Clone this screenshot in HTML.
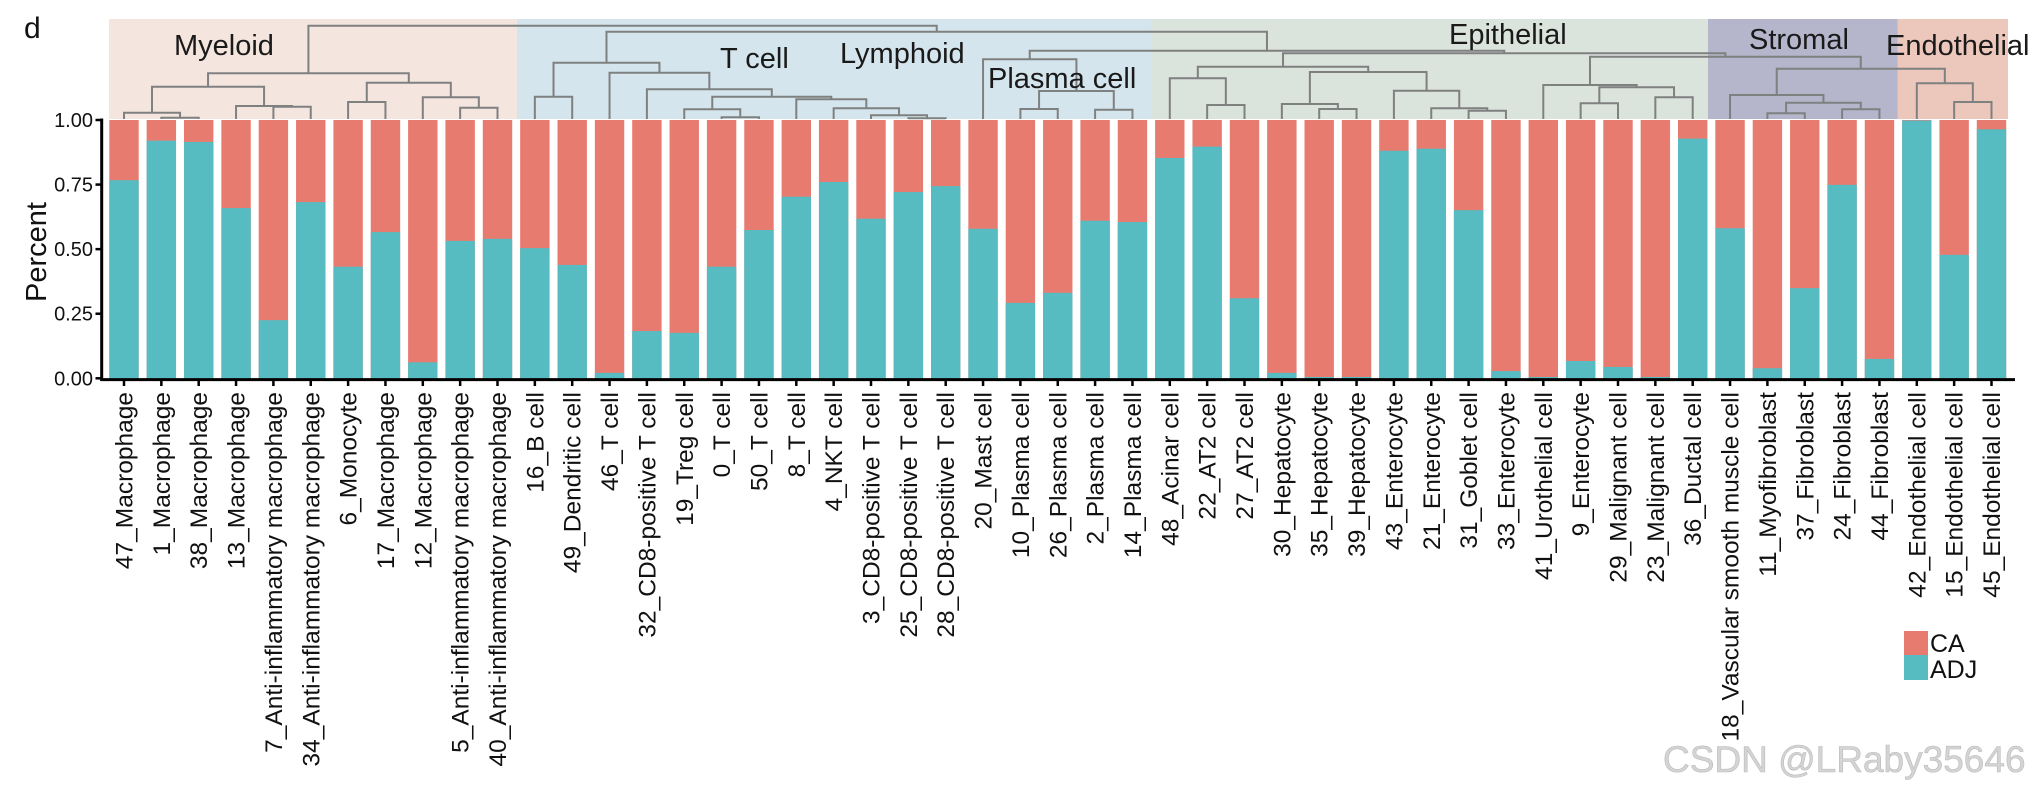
<!DOCTYPE html>
<html><head><meta charset="utf-8"><style>
html,body{margin:0;padding:0;background:#fff;}
svg{display:block;font-family:"Liberation Sans",Arial,sans-serif;}
</style></head><body>
<svg id="chart" width="2036" height="794" viewBox="0 0 2036 794" xmlns="http://www.w3.org/2000/svg">
<g id="bgs"></g>
<g id="dendro"></g>
<g id="bars"></g>
<g id="axes"></g>
<g id="xlabels"></g>
<text x="24" y="38" font-size="30" fill="#111">d</text>
<text transform="translate(46,252) rotate(-90)" text-anchor="middle" font-size="29" fill="#111">Percent</text>
<g>
<rect x="1904" y="631" width="24" height="24" fill="#e87b70"/>
<text x="1930" y="652" font-size="25" fill="#111">CA</text>
<rect x="1904" y="655" width="24" height="25" fill="#56bcc1"/>
<text x="1930" y="678" font-size="25" fill="#111">ADJ</text>
</g>
<text x="1663" y="772" font-size="37" fill="#d4d4d4" stroke="#bbb" stroke-width="0.6">CSDN @LRaby35646</text>
</svg>
<script>
const categories = ["47_Macrophage","1_Macrophage","38_Macrophage","13_Macrophage","7_Anti-inflammatory macrophage","34_Anti-inflammatory macrophage","6_Monocyte","17_Macrophage","12_Macrophage","5_Anti-inflammatory macrophage","40_Anti-inflammatory macrophage","16_B cell","49_Dendritic cell","46_T cell","32_CD8-positive T cell","19_Treg cell","0_T cell","50_T cell","8_T cell","4_NKT cell","3_CD8-positive T cell","25_CD8-positive T cell","28_CD8-positive T cell","20_Mast cell","10_Plasma cell","26_Plasma cell","2_Plasma cell","14_Plasma cell","48_Acinar cell","22_AT2 cell","27_AT2 cell","30_Hepatocyte","35_Hepatocyte","39_Hepatocyte","43_Enterocyte","21_Enterocyte","31_Goblet cell","33_Enterocyte","41_Urothelial cell","9_Enterocyte","29_Malignant cell","23_Malignant cell","36_Ductal cell","18_Vascular smooth muscle cell","11_Myofibroblast","37_Fibroblast","24_Fibroblast","44_Fibroblast","42_Endothelial cell","15_Endothelial cell","45_Endothelial cell"];
const adjValues = [0.767,0.92,0.915,0.659,0.225,0.682,0.432,0.566,0.062,0.532,0.54,0.504,0.439,0.021,0.183,0.176,0.432,0.574,0.703,0.76,0.618,0.721,0.744,0.579,0.292,0.331,0.61,0.605,0.853,0.897,0.31,0.021,0.005,0.005,0.881,0.889,0.651,0.028,0.005,0.067,0.044,0.005,0.928,0.581,0.039,0.349,0.749,0.075,0.998,0.478,0.964];
const yTicks = [0,0.25,0.5,0.75,1];
const yTickLabels = ["0.00","0.25","0.50","0.75","1.00"];
const groupNames = ["Myeloid","Lymphoid","Epithelial","Stromal","Endothelial"];
const groupStart = [0,11,28,43,48];
const groupEnd = [11,28,43,48,51];

const NS="http://www.w3.org/2000/svg";
function mk(tag,attrs,parent){const e=document.createElementNS(NS,tag);for(const k in attrs)e.setAttribute(k,attrs[k]);parent.appendChild(e);return e;}
const X0=109.3, STEP=37.35, BW=29.4;
function xCenter(i){return X0+BW/2+i*STEP;}
function yScale(v){return 378.3-v*258.3;}

const bgCols=["#f4e5df","#d5e5ed","#dbe3dd","#b5b5cb","#ecc8bc"];
const bgEdges=[109,517,1151,1708,1897.5,2008];
const bgs=document.getElementById('bgs');
for(let g=0;g<groupNames.length;g++){
  const r=mk('rect',{x:bgEdges[g],y:19,width:bgEdges[g+1]-bgEdges[g],height:100,fill:bgCols[g]},bgs);
  
  
}

const myeloid=[[[0,[1,2,117.7],112.7],[3,[4,5,106.7],106],86.7],[[6,7,102],[8,[9,10,107.7],97.3],82.7],73.3];
const tcell=[[11,12,96.7],[13,[14,[[15,[16,17,117.3],109.3],[18,[19,[20,[21,22,118.3],115.3],108.3],99.3],96.7],89.3],72.7],62.7];
const mastPlasma=[23,[[24,25,109],[26,27,109.7],91],59.3];
const epi1=[[28,[29,30,105],78.3],[[31,[32,33,109],104],[34,[35,[36,37,110.7],108.3],90.7],72],66.7];
const rest2=[[38,[[39,40,103.3],[41,42,97.3],87.3],85],[[43,[[44,45,113.3],[46,47,109.3],102.7],95],[48,[49,50,102],83.3],68.7],56.7];
const tree=[myeloid,[tcell,[mastPlasma,[epi1,rest2,53.3],50.7],31.7],25.7];
const dg=document.getElementById('dendro');
function drawNode(n){
  if(typeof n==='number')return {x:xCenter(n),y:119};
  const a=drawNode(n[0]),b=drawNode(n[1]),y=n[2];
  const p=mk('path',{d:`M${a.x},${a.y}V${y}H${b.x}V${b.y}`,fill:'none',stroke:'#7f8080','stroke-width':2},dg);
  
  
  return {x:(a.x+b.x)/2,y:y};
}
drawNode(tree);
const dLabels=[["Myeloid",174,55],["T cell",720,68],["Lymphoid",840,63],["Plasma cell",988,88],["Epithelial",1449,44],["Stromal",1749,49],["Endothelial",1886,55]];
for(const d of dLabels){
  const t=mk('text',{x:d[1],y:d[2],'font-size':29,fill:'#1a1a1a'},dg);
  t.textContent=d[0];
  
  
}

const bg=document.getElementById('bars');
for(let i=0;i<categories.length;i++){
  const x=xCenter(i)-BW/2;
  const r1=mk('rect',{x:x,y:yScale(1),width:BW,height:yScale(0)-yScale(1),fill:'#e87b70'},bg);
  
  
  const r2=mk('rect',{x:x,y:yScale(adjValues[i]),width:BW,height:yScale(0)-yScale(adjValues[i]),fill:'#56bcc1'},bg);
  
  
}

const ax=document.getElementById('axes');
const yl=mk('line',{x1:101.7,y1:118.5,x2:101.7,y2:380.8,stroke:'#000','stroke-width':3},ax);


const xl=mk('line',{x1:100.2,y1:379.6,x2:2015,y2:379.6,stroke:'#000','stroke-width':3},ax);


for(let k=0;k<yTicks.length;k++){
  const y=yScale(yTicks[k]);
  const tk=mk('line',{x1:95.5,y1:y,x2:101.7,y2:y,stroke:'#000','stroke-width':2.5},ax);
  
  
  const t=mk('text',{x:93,y:y+7,'text-anchor':'end','font-size':20,fill:'#111'},ax);
  t.textContent=yTickLabels[k];
  
  
}
const xg=document.getElementById('xlabels');
for(let i=0;i<categories.length;i++){
  const cx=xCenter(i);
  const tk=mk('line',{x1:cx,y1:379.6,x2:cx,y2:386,stroke:'#000','stroke-width':2.5},ax);
  
  
  const t=mk('text',{transform:`translate(${cx+8.5},392) rotate(-90)`,'text-anchor':'end','font-size':24.5,fill:'#111'},xg);
  t.textContent=categories[i];
  
  
}
</script>
</body></html>
